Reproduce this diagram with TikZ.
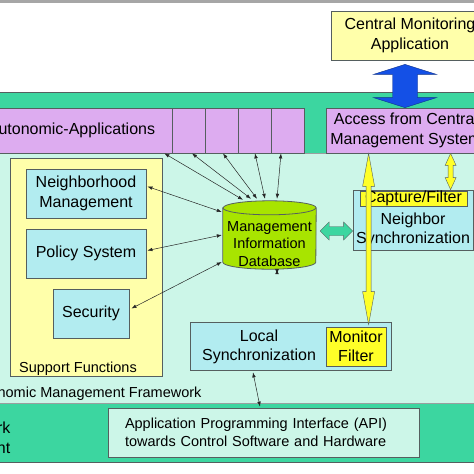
\documentclass[tikz,border=0pt]{standalone}
\usepackage{fontspec}
\setmainfont{Liberation Sans}
\usetikzlibrary{calc,arrows.meta}

\definecolor{bandgreen}{RGB}{60,214,160}
\definecolor{palegreen}{RGB}{204,246,232}
\definecolor{appviolet}{RGB}{221,172,240}
\definecolor{lightyellow}{RGB}{255,255,170}
\definecolor{boxcyan}{RGB}{178,236,240}
\definecolor{hotyellow}{RGB}{255,255,40}
\definecolor{dbgreen}{RGB}{168,228,0}
\definecolor{fatblue}{RGB}{20,80,230}
\definecolor{rimgray}{RGB}{85,95,95}

\tikzset{
  big/.style={font=\fontsize{16}{19.5}\selectfont},
  small/.style={font=\fontsize{14.5}{17.5}\selectfont},
  box/.style={draw=rimgray, line width=0.8pt, inner sep=0pt, align=center, big},
  cyanbox/.style={box, fill=boxcyan},
  appbox/.style={box, fill=appviolet, minimum height=45pt},
  link/.style={{Latex[length=5pt,width=3.6pt]}-{Latex[length=5pt,width=3.6pt]}, line width=0.5pt, black!85},
}

\begin{document}
\begin{tikzpicture}[x=1pt,y=-1pt]
\def\fatarrow#1#2#3#4#5#6{
  \draw[#1] (#2)
    -- ($($(#2)!#6!(#3)$)!#5!90:(#3)$) -- ($($(#2)!#6!(#3)$)!#4!90:(#3)$)
    -- ($($(#3)!#6!(#2)$)!#4!-90:(#2)$) -- ($($(#3)!#6!(#2)$)!#5!-90:(#2)$)
    -- (#3)
    -- ($($(#3)!#6!(#2)$)!#5!90:(#2)$) -- ($($(#3)!#6!(#2)$)!#4!90:(#2)$)
    -- ($($(#2)!#6!(#3)$)!#4!-90:(#3)$) -- ($($(#2)!#6!(#3)$)!#5!-90:(#3)$)
    -- cycle;
}
\useasboundingbox (0,0) rectangle (474,474);
\clip (0,0) rectangle (474,474);
% background bands
\fill[gray!70] (0,0) rectangle (474,2.5);
\draw[rimgray, fill=bandgreen] (-10,92) rectangle (484,462);
\draw[rimgray!60, fill=palegreen] (-10,153) rectangle (484,403);

% top row
\node[box, fill=lightyellow, minimum width=158pt, minimum height=49pt] (cma) at (410,35.5) {Central Monitoring\\Application};
\node[appbox, minimum width=203pt] (aapp) at (71.5,130.5) {Autonomic-Applications};
\foreach \i in {1,...,4} \node[appbox, minimum width=33pt] (cell\i) at (156+33*\i,130.5) {};
\node[appbox, minimum width=160pt] (acc) at (406,130.5) {Access from Central\\Management System};

% support functions
\node[box, fill=lightyellow, minimum width=152pt, minimum height=218pt] (sup) at (86,267) {};
\node[small, anchor=base west] (suplabel) at ($(sup.south west)+(6,-4)$) {Support Functions};
\node[cyanbox, minimum width=120pt, minimum height=49pt] (nbm) at (86,193.5) {Neighborhood\\Management};
\node[cyanbox, minimum width=120pt, minimum height=49pt] (pol) at (86,253.5) {Policy System};
\node[cyanbox, minimum width=76pt, minimum height=49pt] (sec) at (91,313.5) {Security};

% database
\node[minimum width=93pt, minimum height=68pt, inner sep=0pt] (mib) at (269.5,235) {};
\draw[rimgray, fill=dbgreen, line width=0.8pt] ([yshift=-7pt]mib.north west)
  -- ([yshift=7pt]mib.south west) arc[start angle=180, end angle=360, x radius=46.5pt, y radius=7pt]
  -- ([yshift=-7pt]mib.north east) arc[start angle=0, end angle=180, x radius=46.5pt, y radius=7pt] -- cycle;
\draw[rimgray, line width=0.8pt] ([yshift=-7pt]mib.north west) arc[start angle=180, end angle=360, x radius=46.5pt, y radius=7pt];
\node[small, align=center] (mibtext) at ($(mib)+(0,9)$) {Management\\Information\\Database};

% neighbor synchronization
\node[cyanbox, minimum width=120pt, minimum height=60pt] (nsync) at (413,220) {};
\node[big, align=center] (nsynctext) at (413,230) {Neighbor\\Synchronization};
\node[box, fill=hotyellow, minimum width=107pt, minimum height=15pt] (cap) at (413.5,198.5) {Capture/Filter};

% local synchronization
\node[cyanbox, minimum width=201pt, minimum height=48pt] (lsync) at (290.5,346) {};
\node[big, align=center] (lsynctext) at (259,347) {Local\\Synchronization};
\node[box, fill=hotyellow, minimum width=60pt, minimum height=39pt] (mon) at (356,346.5) {Monitor\\Filter};

% api
\node[box, small, fill=palegreen, align=left, text width=277pt, inner xsep=17pt, minimum height=49pt] (api) at (263.5,432.5)
  {Application Programming Interface (API)\\towards Control Software and Hardware};

\node[small, anchor=base east] (fwlabel) at (205,397) {Autonomic Management Framework};
\node[big, align=center] (nelabel) at (-19,438) {Network\\Element};

% fat arrows
\coordinate (bluetop) at ($(acc.north |- cma.south)+(-1,4)$);
\coordinate (bluebot) at ($(acc.north)+(-1,0)$);
\fatarrow{draw=fatblue!60!black, fill=fatblue}{bluetop}{bluebot}{12.5pt}{31.5pt}{10pt}
\coordinate (grL) at ($(mib.east)+(4,-4)$);
\coordinate (grR) at (nsync.west |- grL);
\fatarrow{draw=rimgray, fill=bandgreen}{grL}{grR}{4.5pt}{9pt}{9pt}
\coordinate (ylT) at ($(acc.south west)+(43,0)$);
\coordinate (ylB) at ($(ylT |- mon.north)+(0,-2)$);
\fatarrow{draw=rimgray, fill=hotyellow}{ylT}{ylB}{2.5pt}{6pt}{33pt}
\coordinate (ysT) at ($(acc.south west)+(125,0)$);
\coordinate (ysB) at (ysT |- nsync.north);
\fatarrow{draw=rimgray, fill=hotyellow}{ysT}{ysB}{2.5pt}{5.5pt}{12pt}

% links to the database
\draw[link] ($(aapp.south east)+(-9,0)$) -- ($(mib.north)+(-26.5,-1)$);
\foreach \i/\sx/\tx in {1/3/-18.5, 2/1/-12.5, 3/0/-4.5, 4/-7/7.5}
  \draw[link] ($(cell\i.south)+(\sx,0)$) -- ($(mib.north)+(\tx,-2)$);
\draw[link] ($(nbm.east)+(1,-7)$) -- ($(mib.west)+(-1,-23)$);
\draw[link] ($(pol.east)+(1,-3)$) -- ($(mib.west)+(-1,0)$);
\draw[link] ($(sec.east)+(2,-5)$) -- ($(mib.west)+(-1,27)$);
\draw[link] ($(mib.south)+(7.5,5)$) -- ($(mib.south)+(7.5,0)$ |- lsync.north);
\draw[link] ($(lsync.south)+(-37.5,2)$) -- ($(api.north)+(-3.5,-1)$);
\end{tikzpicture}
\end{document}
